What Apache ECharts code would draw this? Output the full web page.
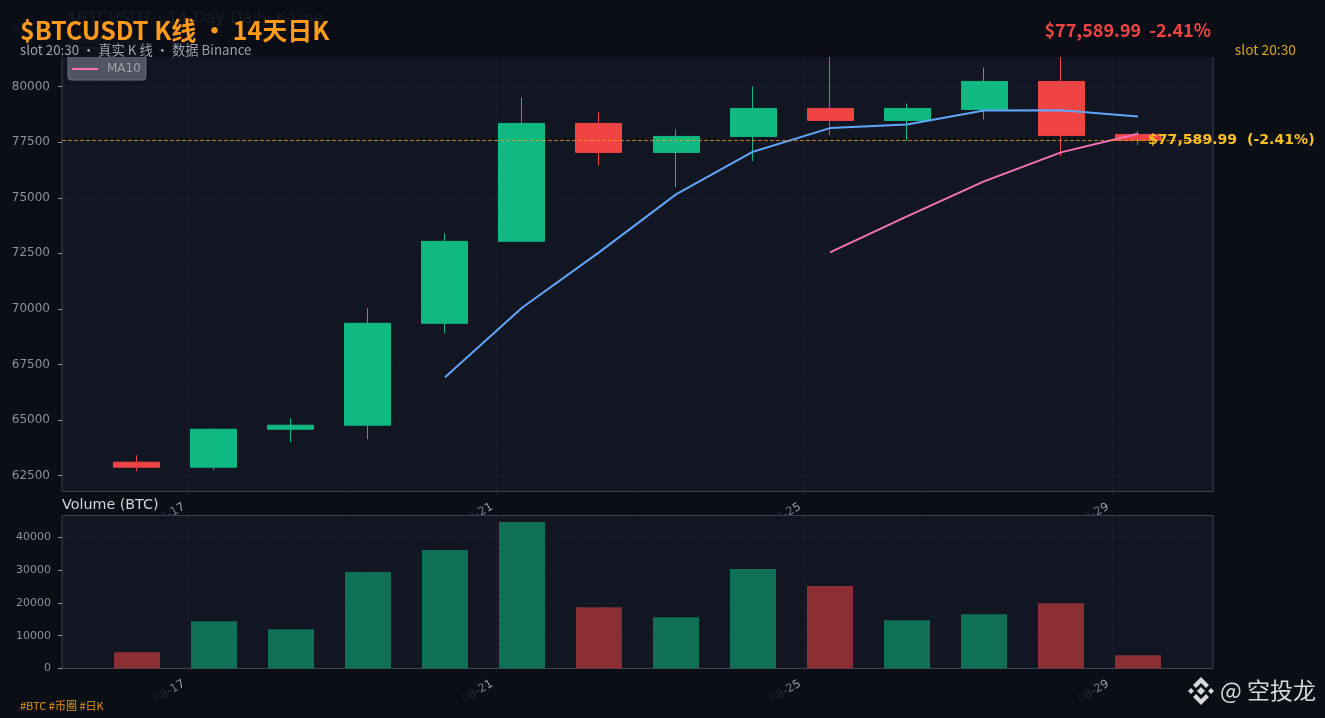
<!DOCTYPE html>
<html><head><meta charset="utf-8">
<style>html,body{margin:0;padding:0;background:#0a0e15}#c{width:1325px;height:718px}</style>
<script src="https://cdn.jsdelivr.net/npm/echarts@6/dist/echarts.min.js"></script>
</head><body><div id="c"></div>
<script>
const dates=['08-16','08-17','08-18','08-19','08-20','08-21','08-22','08-23','08-24','08-25','08-26','08-27','08-28','08-29'];
const opens =[63100,62875,64584,64764,69352,73041,78349,77045,77764,79024,78484,78979,80238,77854];
const closes=[62875,64584,64764,69352,73041,78349,77045,77764,79024,78484,79024,80238,77809,77590];
const lows  =[62695,62740,63999,64134,68902,73041,76460,75470,76653,77809,77584,78529,76878,77360];
const highs =[63414,64629,65079,70027,73401,79519,78844,78079,80013,81500,79249,80868,81500,78003];
const volumes=[4970,14400,11980,29360,36070,44600,18690,15640,30270,25100,14730,16560,19900,4050];
const ma5 =[null,null,null,null,66923,70049,72546,75155,77076,78138,78304,78934,78947,78664];
const ma10=[null,null,null,null,null,null,null,null,null,72546,74166,75740,77045,77886];
const tickDays=['08-17','08-21','08-25','08-29'];
const priceTicks=[62500,65000,67500,70000,72500,75000,77500,80000,82500];
const volumeTicks=[0,10000,20000,30000,40000];
const lastPrice=77589.99;
const lastPriceText='$77,589.99  (-2.41%)';

// x is measured in days of the month; each candle sits at 08:00 of its day
const dayNum=d=>Number(d.split('-')[1]);
const t=d=>dayNum(d)+8/24;
const xMin=t('08-16')-0.974, xMax=t('08-29')+0.974;
const tickVals=tickDays.map(dayNum);
const GREEN='#10b981',RED='#ef4444';
function fmt(v){const s=tickDays[tickVals.indexOf(Math.round(v))]||'';
  return s.split('').map((c,i)=>'{'+'abcde'[i]+'|'+c+'}').join('');}
const rich={a:{color:'#1b202a'},b:{color:'#232833'},c:{color:'#3a404b'},d:{color:'#777c87'},e:{color:'#9aa0aa'}};
Object.values(rich).forEach(r=>{r.fontFamily='DejaVu Sans';r.fontSize=11.5;});
function xAxis(i,z){return {type:'value',gridIndex:i,min:xMin,max:xMax,z,
  axisLine:{show:false},
  axisTick:{show:true,length:4,customValues:tickVals,lineStyle:{color:'#1b1f29'}},
  axisLabel:{show:true,rotate:30,margin:12,padding:[0,5,0,0],customValues:tickVals,formatter:fmt,rich,hideOverlap:false},
  splitLine:{show:true,lineStyle:{color:'rgba(255,255,255,0.045)',type:'dashed',width:1}}};}
function yAxis(i,o,fs,ticks,margin){return Object.assign({type:'value',gridIndex:i,scale:false,z:i?2:0,
  axisLine:{show:false},axisTick:{show:true,length:4,customValues:ticks,lineStyle:{color:'#8a909b'}},
  axisLabel:{color:'#8b919c',fontFamily:'DejaVu Sans',fontSize:fs,margin,customValues:ticks,formatter:v=>String(v)},
  splitLine:{show:true,lineStyle:{color:'rgba(255,255,255,0.045)',type:'dashed',width:1}}},o);}
const sans='"Noto Sans CJK SC","Noto Sans",sans-serif';
const chart=echarts.init(document.getElementById('c'),null,{renderer:'canvas'});
const wm='#d6d8da';
chart.setOption({
 animation:false,backgroundColor:'#0a0e15',
 title:{text:'$BTCUSDT · 14-Day Daily K-Line',left:62,top:6,textStyle:{color:'#d1d5db',fontSize:16,fontWeight:'normal',fontFamily:'DejaVu Sans'},z:0},
 legend:{data:['MA5','MA10'],orient:'vertical',left:68,top:38,padding:[4,5,5,4],itemGap:9,itemWidth:26,itemHeight:2,icon:'rect',
   backgroundColor:'rgba(120,125,135,0.62)',borderColor:'#6b7280',borderWidth:1,borderRadius:3,
   textStyle:{color:'#9ca0a8',fontFamily:'DejaVu Sans',fontSize:12,padding:[0,0,0,4]},z:4},
 grid:[
  {left:62,right:112,top:24.5,height:467,show:true,backgroundColor:'#111622',borderColor:'#3a4050',borderWidth:1,z:-1},
  {left:62,right:112,top:515.5,height:153,show:true,backgroundColor:'#111622',borderColor:'#3a4050',borderWidth:1,z:1}
 ],
 xAxis:[xAxis(0,0),xAxis(1,2)],
 yAxis:[yAxis(0,{min:61780,max:82802},12,priceTicks,12),yAxis(1,{min:0,max:46600},11,volumeTicks,11)],
 series:[
  {type:'candlestick',name:'K',xAxisIndex:0,yAxisIndex:0,barWidth:46.5,
   data:dates.map((d,i)=>[t(d),opens[i],closes[i],lows[i],highs[i]]),
   itemStyle:{color:GREEN,color0:RED,borderColor:GREEN,borderColor0:RED,borderWidth:1},
   markLine:{symbol:'none',silent:true,animation:false,data:[{yAxis:lastPrice}],label:{show:false},
     lineStyle:{color:'rgba(245,158,11,0.75)',type:'dashed',width:1}},
   markPoint:{symbol:'circle',symbolSize:0,silent:true,animation:false,
     data:[{coord:[t(dates[dates.length-1]),lastPrice],value:lastPriceText}],
     label:{show:true,position:'right',offset:[5,0],formatter:lastPriceText,color:'#fbbf24',fontFamily:'DejaVu Sans',fontWeight:'bold',fontSize:14.1}}},
  {type:'line',name:'MA5',xAxisIndex:0,yAxisIndex:0,data:dates.map((d,i)=>[t(d),ma5[i]]),showSymbol:false,symbol:'none',lineStyle:{color:'#60a5fa',width:2},itemStyle:{color:'#60a5fa'},z:3},
  {type:'line',name:'MA10',xAxisIndex:0,yAxisIndex:0,data:dates.map((d,i)=>[t(d),ma10[i]]),showSymbol:false,symbol:'none',lineStyle:{color:'#f472b6',width:2},itemStyle:{color:'#f472b6'},z:3},
  {type:'bar',name:'Volume',xAxisIndex:1,yAxisIndex:1,barWidth:46,
   data:dates.map((d,i)=>({value:[t(d),volumes[i]],itemStyle:{color:closes[i]>=opens[i]?'#107056':'#8b2f35'}}))}
 ],
 graphic:{elements:[
  {type:'rect',z:100,silent:true,shape:{x:0,y:0,width:1325,height:57},style:{fill:'rgba(10,13,20,0.93)'}},
  {type:'text',z:101,left:20,top:18,style:{text:'$BTCUSDT K线 · 14天日K',fill:'#ff9a1a',font:'bold 25px '+sans}},
  {type:'text',z:101,left:20,top:43,style:{text:'slot 20:30 · 真实 K 线 · 数据 Binance',fill:'#9ca3af',font:'13.3px '+sans}},
  {type:'text',z:101,right:114,top:21,style:{text:'$77,589.99  -2.41%',fill:'#ef4444',font:'bold 18px '+sans}},
  {type:'text',z:101,right:29,top:43,style:{text:'slot 20:30',fill:'#d9a31a',font:'13.8px '+sans}},
  {type:'text',z:101,left:62,top:498,style:{text:'Volume (BTC)',fill:'#d1d5db',font:'14.3px "DejaVu Sans"'}},
  {type:'text',z:101,left:20,top:700,style:{text:'#BTC #币圈 #日K',fill:'#e8950f',font:'11px '+sans}},
  {type:'text',z:101,left:1220,top:679,style:{text:'@ 空投龙',fill:wm,font:'23px '+sans}},
  {type:'group',z:101,x:1201,y:691,children:[
    {type:'polygon',z:101,shape:{points:[[0,-4],[4,0],[0,4],[-4,0]]},style:{fill:wm}},
    {type:'polygon',z:101,shape:{points:[[-10,-3],[-7,0],[-10,3],[-13,0]]},style:{fill:wm}},
    {type:'polygon',z:101,shape:{points:[[10,-3],[13,0],[10,3],[7,0]]},style:{fill:wm}},
    {type:'polygon',z:101,shape:{points:[[0,-14],[8,-6],[5,-3],[0,-8],[-5,-3],[-8,-6]]},style:{fill:wm}},
    {type:'polygon',z:101,shape:{points:[[0,14],[8,6],[5,3],[0,8],[-5,3],[-8,6]]},style:{fill:wm}}
  ]}
 ]}
});
</script></body></html>
